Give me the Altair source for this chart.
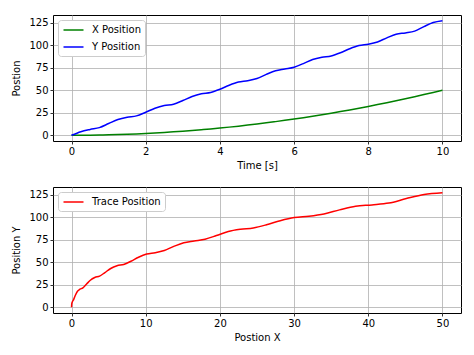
import altair as alt
import pandas as pd

# time samples (s)
t = [0.0, 0.25, 0.5, 0.75, 1.0, 1.25, 1.5, 1.75, 2.0, 2.25, 2.5, 2.75, 3.0, 3.25,
     3.5, 3.75, 4.0, 4.25, 4.5, 4.75, 5.0, 5.25, 5.5, 5.75, 6.0, 6.25, 6.5, 6.75,
     7.0, 7.25, 7.5, 7.75, 8.0, 8.25, 8.5, 8.75, 9.0, 9.25, 9.5, 9.75, 10.0]

# X position
x_pos = [0.0, 0.03, 0.13, 0.28, 0.5, 0.78, 1.13, 1.53, 2.0, 2.53, 3.13, 3.78, 4.5,
         5.28, 6.13, 7.03, 8.0, 9.03, 10.13, 11.28, 12.5, 13.78, 15.13, 16.53, 18.0,
         19.53, 21.13, 22.78, 24.5, 26.28, 28.13, 30.03, 32.0, 34.03, 36.13, 38.28,
         40.5, 42.78, 45.13, 47.53, 50.0]

# Y position
y_pos = [0.0, 4.0, 6.5, 8.5, 13.0, 17.5, 20.0, 21.5, 25.5, 30.0, 33.0, 34.5, 38.5,
         43.0, 46.0, 47.5, 51.0, 55.5, 59.0, 60.5, 63.0, 67.5, 71.5, 73.5, 75.5,
         79.5, 84.0, 86.5, 88.0, 91.5, 96.0, 99.5, 101.0, 103.5, 108.0, 112.0,
         113.5, 115.5, 120.5, 125.0, 127.0]

series_top = ["X Position", "Y Position"]
colors_top = ["#008000", "#0000ff"]

n = len(t)
top_df = pd.DataFrame({
    "t": t + t,
    "value": x_pos + y_pos,
    "series": [series_top[0]] * n + [series_top[1]] * n,
})
trace_df = pd.DataFrame({
    "t": t, "x": x_pos, "y": y_pos, "series": ["Trace Position"] * n,
})

FONT = "DejaVu Sans"

def legend():
    return alt.Legend(
        title=None, orient="top-left", offset=5, padding=4,
        fillColor="white", strokeColor="#cccccc", cornerRadius=3,
        symbolType="M-0.9,0H3.1", symbolSize=100, symbolStrokeWidth=1.5,
        labelFont=FONT, labelFontSize=10, labelColor="black", labelOffset=18,
        rowPadding=6,
    )

yticks = [0, 25, 50, 75, 100, 125]

top = alt.Chart(top_df).mark_line(strokeWidth=1.5, interpolate="monotone").encode(
    x=alt.X("t:Q", scale=alt.Scale(domain=[-0.5, 10.5], nice=False, zero=False),
            axis=alt.Axis(values=[0, 2, 4, 6, 8, 10], title="Time [s]")),
    y=alt.Y("value:Q", scale=alt.Scale(domain=[-6.35, 133.35], nice=False, zero=False),
            axis=alt.Axis(values=yticks, title="Postion")),
    color=alt.Color("series:N", scale=alt.Scale(domain=series_top, range=colors_top),
                    legend=legend()),
    order="t:Q",
).properties(width=408, height=126)

bottom = alt.Chart(trace_df).mark_line(strokeWidth=1.5, interpolate="monotone").encode(
    x=alt.X("x:Q", scale=alt.Scale(domain=[-2.5, 52.5], nice=False, zero=False),
            axis=alt.Axis(values=[0, 10, 20, 30, 40, 50], title="Postion X")),
    y=alt.Y("y:Q", scale=alt.Scale(domain=[-6.35, 133.35], nice=False, zero=False),
            axis=alt.Axis(values=yticks, title="Position Y")),
    color=alt.Color("series:N", scale=alt.Scale(domain=["Trace Position"], range=["#ff0000"]),
                    legend=legend()),
    order="t:Q",
).properties(width=408, height=126)

chart = alt.vconcat(top, bottom, spacing=46, bounds="flush").resolve_scale(
    color="independent"
).properties(
    padding={"left": 11, "top": 14, "right": 10, "bottom": 11},
    background="white",
).configure_view(
    stroke="black", strokeWidth=1
).configure_axis(
    domain=False, grid=True, gridColor="#b0b0b0", gridWidth=0.8,
    tickColor="black", tickSize=3, tickWidth=0.8,
    labelFont=FONT, labelFontSize=10, labelColor="black", labelPadding=2,
    titleFont=FONT, titleFontSize=10, titleFontWeight="normal", titleColor="black",
    titlePadding=4,
).configure_axisY(
    titlePadding=7
)

chart.save("out.html", embed_options={"renderer": "svg", "actions": False})
